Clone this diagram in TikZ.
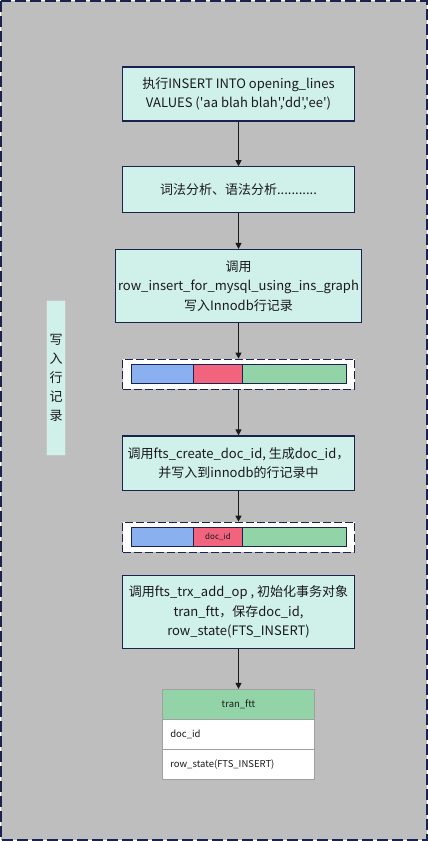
\documentclass[tikz,border=0pt]{standalone}
\usepackage{fontspec}
\setmainfont{Noto Sans CJK SC}[Ligatures=TeXOff]
\usetikzlibrary{arrows.meta}

\definecolor{navy}{HTML}{1A2350}
\definecolor{ink}{HTML}{1A1A1A}
\definecolor{mint}{HTML}{D0F0EA}
\definecolor{framegray}{HTML}{BEBEBE}
\definecolor{segblue}{HTML}{8AB0F0}
\definecolor{segred}{HTML}{F2647E}
\definecolor{seggreen}{HTML}{92D4A8}
\definecolor{cellgray}{HTML}{A0A0A0}

\begin{document}
\begin{tikzpicture}[x=1pt,y=-1pt,
    procbox/.style={draw=navy, line width=1.1pt, fill=mint, align=center, text=ink,
        font=\fontsize{13}{19.5}\selectfont, inner sep=0pt, minimum width=232pt},
    recbar/.style={draw=navy, fill=white, dash pattern=on 8pt off 3pt, line width=1.3pt,
        minimum width=232pt, minimum height=30pt},
    seg/.style={draw=navy, line width=0.9pt, minimum height=19.3pt, inner sep=0pt,
        font=\fontsize{8}{9}\selectfont, text=ink},
    cell/.style={draw=cellgray, line width=0.8pt, fill=white, text width=136.4pt, inner xsep=8pt,
        minimum height=30pt, align=left, font=\fontsize{9.5}{11}\selectfont, text=ink},
    flow/.style={-{Triangle[width=6pt,length=6pt]}, line width=1pt, draw=ink}]
    \useasboundingbox (0,0) rectangle (428,841);
    \fill[white] (0,0) rectangle (428,841);
    \draw[navy, fill=framegray, line width=1.5pt, dash pattern=on 11pt off 4pt] (1,1) rectangle (427,840);

    % side label
    \node[draw=cellgray!60, fill=mint, line width=0.6pt, minimum width=18.6pt, minimum height=155pt,
        inner sep=0pt, align=center, font=\fontsize{13}{19}\selectfont, text=ink] (side) at (56,378.2)
        {写\\入\\行\\记\\录};

    % steps
    \node[procbox, minimum height=54pt] (insert) at (238.5,94)
        {执行INSERT INTO opening\_lines\\VALUES ('aa blah blah','dd','ee')};
    \node[procbox, minimum height=45.5pt] (parse) at (238.5,189.5)
        {词法分析、语法分析...........};
    \node[procbox, minimum width=245.7pt, minimum height=73pt] (rowins) at (238.5,286)
        {调用\\row\_insert\_for\_mysql\_using\_ins\_graph\\写入Innodb行记录};

    \node[recbar] (rec1) at (238.5,374.3) {};
    \node[seg, fill=segblue, minimum width=62pt] (rec1a) at (162.5,373.7) {};
    \node[seg, fill=segred, minimum width=49pt] (rec1b) at (218,373.7) {};
    \node[seg, fill=seggreen, minimum width=104.4pt] (rec1c) at (294.7,373.7) {};

    \node[procbox, minimum height=54.7pt] (docid) at (238.5,463.3)
        {调用fts\_create\_doc\_id, 生成doc\_id，\\并写入到innodb的行记录中};

    \node[recbar] (rec2) at (238.5,537.3) {};
    \node[seg, fill=segblue, minimum width=62pt] (rec2a) at (162.5,536.8) {};
    \node[seg, fill=segred, minimum width=49pt] (rec2b) at (218,536.8) {doc\_id};
    \node[seg, fill=seggreen, minimum width=104.4pt] (rec2c) at (294.7,536.8) {};

    \node[procbox, minimum height=73pt] (addop) at (238.5,611.8)
        {调用fts\_trx\_add\_op , 初始化事务对象\\tran\_ftt，保存doc\_id,\\row\_state(FTS\_INSERT)};

    % tran_ftt table
    \node[cell, fill=seggreen, align=center] (ftt) at (238.5,704.3) {tran\_ftt};
    \node[cell] (fttdoc) at (238.5,734.3) {doc\_id};
    \node[cell] (fttstate) at (238.5,764.3) {row\_state(FTS\_INSERT)};

    \draw[flow] (insert.south) -- (parse.north);
    \draw[flow] (parse.south) -- (rowins.north);
    \draw[flow] (rowins.south) -- (rec1.north);
    \draw[flow] (rec1.south) -- (docid.north);
    \draw[flow] (docid.south) -- (rec2.north);
    \draw[flow] (addop.south) -- (ftt.north);
\end{tikzpicture}
\end{document}
